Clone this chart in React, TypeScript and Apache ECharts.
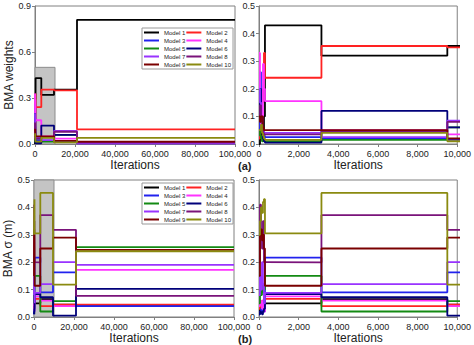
import React, { useEffect, useRef } from "react";
import * as echarts from "echarts";

// Iteration breakpoints (step changes)
const ITER = [0, 50, 100, 150, 200, 250, 300, 3150, 9500, 21000, 100000];

const MODELS = ["Model 1", "Model 2", "Model 3", "Model 4", "Model 5", "Model 6", "Model 7", "Model 8", "Model 9", "Model 10"];
const COLORS = ["#000000", "#ff2222", "#2222ee", "#ff33ff", "#138a13", "#00007a", "#9933ff", "#7a137a", "#7a0000", "#8a8a10"];

// (a) BMA weights
const W1 = [0.0, 0.02, 0.05, 0.1, 0.05, 0.1, 0.43, 0.32, 0.355, 0.81, 0.81];
const W2 = [0.02, 0.05, 0.1, 0.15, 0.2, 0.33, 0.24, 0.355, 0.35, 0.095, 0.095];
const W3 = [0.05, 0.26, 0.15, 0.1, 0.05, 0.03, 0.025, 0.02, 0.015, 0.005, 0.005];
const W4 = [0.33, 0.1, 0.05, 0.1, 0.29, 0.2, 0.155, 0.05, 0.035, 0.005, 0.005];
const W5 = [0.05, 0.03, 0.02, 0.01, 0.02, 0.01, 0.01, 0.015, 0.06, 0.005, 0.005];
const W6 = [0.1, 0.2, 0.1, 0.05, 0.02, 0.01, 0.005, 0.12, 0.06, 0.01, 0.01];
const W7 = [0.2, 0.15, 0.1, 0.05, 0.05, 0.04, 0.04, 0.025, 0.085, 0.005, 0.005];
const W8 = [0.1, 0.14, 0.08, 0.05, 0.04, 0.035, 0.035, 0.045, 0.08, 0.01, 0.01];
const W9 = [0.1, 0.08, 0.1, 0.1, 0.06, 0.05, 0.05, 0.05, 0.02, 0.015, 0.015];
const W10 = [0.05, 0.05, 0.07, 0.04, 0.03, 0.02, 0.015, 0.04, 0.01, 0.04, 0.04];

// (b) BMA sigma (m)
const S1 = [0.02, 0.03, 0.05, 0.04, 0.03, 0.05, 0.05, 0.065, 0.045, 0.04, 0.04];
const S2 = [0.03, 0.05, 0.04, 0.06, 0.05, 0.07, 0.066, 0.04, 0.045, 0.045, 0.045];
const S3 = [0.01, 0.02, 0.03, 0.02, 0.03, 0.02, 0.217, 0.09, 0.163, 0.04, 0.04];
const S4 = [0.04, 0.06, 0.05, 0.03, 0.06, 0.02, 0.075, 0.06, 0.04, 0.172, 0.172];
const S5 = [0.05, 0.1, 0.08, 0.12, 0.09, 0.1, 0.15, 0.02, 0.058, 0.255, 0.255];
const S6 = [0.01, 0.02, 0.015, 0.01, 0.02, 0.03, 0.084, 0.072, 0.005, 0.103, 0.103];
const S7 = [0.08, 0.15, 0.1, 0.2, 0.12, 0.05, 0.088, 0.12, 0.2, 0.19, 0.19];
const S8 = [0.2, 0.41, 0.3, 0.25, 0.35, 0.2, 0.199, 0.372, 0.318, 0.077, 0.077];
const S9 = [0.15, 0.3, 0.32, 0.28, 0.3, 0.25, 0.114, 0.25, 0.29, 0.245, 0.245];
const S10 = [0.3, 0.35, 0.4, 0.38, 0.42, 0.43, 0.305, 0.453, 0.118, 0.24, 0.24];

const WEIGHTS = [W1, W2, W3, W4, W5, W6, W7, W8, W9, W10];
const SIGMAS = [S1, S2, S3, S4, S5, S6, S7, S8, S9, S10];

// Shaded zoom window
const SHADE_X = [0, 10000];
const SHADE_Y = [0, 0.5];

const FONT = "'Liberation Sans', Arial, sans-serif";
const AX = "#808080";
const TXT = "#222";

export default function App() {
  const ref = useRef<HTMLDivElement>(null);
  useEffect(() => {
    if (!ref.current) return;
    const chart = echarts.init(ref.current, undefined, { renderer: "svg" });

    const grids = [
      { left: 35, top: 6, width: 200, height: 138, show: true, borderColor: AX, borderWidth: 1 },
      { left: 259, top: 6, width: 200, height: 138, show: true, borderColor: AX, borderWidth: 1 },
      { left: 34, top: 180, width: 200, height: 138, show: true, borderColor: AX, borderWidth: 1 },
      { left: 259, top: 180, width: 199, height: 138, show: true, borderColor: AX, borderWidth: 1 },
    ];

    const fmt = (v: number) => v.toLocaleString("en-US");
    const mkX = (g: number, max: number, interval: number) => ({
      type: "value",
      gridIndex: g,
      min: 0,
      max,
      interval,
      name: "Iterations",
      nameLocation: "middle",
      nameGap: 15,
      nameTextStyle: { fontSize: 12, color: TXT, fontFamily: FONT },
      axisLine: { show: true, lineStyle: { color: AX } },
      axisTick: { show: true, length: 3, lineStyle: { color: AX } },
      splitLine: { show: false },
      axisLabel: { fontSize: 9, color: TXT, fontFamily: FONT, margin: 5, formatter: fmt },
    });
    const mkY = (g: number, max: number, interval: number, name: string, gap: number) => ({
      type: "value",
      gridIndex: g,
      min: 0,
      max,
      interval,
      name,
      nameLocation: "middle",
      nameGap: gap,
      nameRotate: 90,
      nameTextStyle: { fontSize: 12, color: TXT, fontFamily: FONT },
      axisLine: { show: true, lineStyle: { color: AX } },
      axisTick: { show: true, length: 3, lineStyle: { color: AX } },
      splitLine: { show: false },
      axisLabel: { fontSize: 9, color: TXT, fontFamily: FONT, margin: 4, formatter: (v: number) => v.toFixed(1) },
    });

    const series: any[] = [];
    // shaded boxes
    [0, 2].forEach((g) => {
      series.push({
        type: "line",
        xAxisIndex: g,
        yAxisIndex: g,
        data: [[SHADE_X[0], SHADE_Y[0]], [SHADE_X[1], SHADE_Y[0]]],
        symbol: "none",
        lineStyle: { width: 0, opacity: 0 },
        silent: true,
        z: 1,
        markArea: {
          silent: true,
          itemStyle: { color: "#c4c4c4", borderColor: "#8c8c8c", borderWidth: 1 },
          data: [[{ coord: [SHADE_X[0], SHADE_Y[0]] }, { coord: [SHADE_X[1], SHADE_Y[1]] }]],
        },
      });
    });
    [0, 1, 2, 3].forEach((g) => {
      const src = g < 2 ? WEIGHTS : SIGMAS;
      src.forEach((vals, m) => {
        series.push({
          type: "line",
          name: MODELS[m],
          xAxisIndex: g,
          yAxisIndex: g,
          step: "end",
          symbol: "none",
          silent: true,
          data: ITER.map((x, i) => [x, vals[i]]),
          lineStyle: { width: 1.8, color: COLORS[m] },
          itemStyle: { color: COLORS[m] },
        });
      });
    });

    const mkLegend = (top: number) => ({
      left: 142,
      top,
      width: 95,
      orient: "horizontal",
      icon: "rect",
      itemWidth: 15,
      itemHeight: 2,
      itemGap: 1,
      padding: [1, 2],
      backgroundColor: "#fff",
      borderColor: "#999",
      borderWidth: 1,
      selectedMode: false,
      textStyle: { fontSize: 6, lineHeight: 7, color: TXT, fontFamily: FONT },
      data: MODELS,
    });

    chart.setOption({
      animation: false,
      backgroundColor: "#fff",
      grid: grids,
      xAxis: [mkX(0, 100000, 20000), mkX(1, 10000, 2000), mkX(2, 100000, 20000), mkX(3, 10000, 2000)],
      yAxis: [
        mkY(0, 0.9, 0.3, "BMA weights", 17),
        mkY(1, 0.5, 0.1, "", 10),
        mkY(2, 0.5, 0.1, "BMA σ (m)", 19),
        mkY(3, 0.5, 0.1, "", 10),
      ],
      legend: [mkLegend(28), mkLegend(183)],
      graphic: [
        { type: "text", left: 238, top: 160, style: { text: "(a)", fontSize: 11, fontWeight: "bold", fill: TXT, fontFamily: FONT } },
        { type: "text", left: 238, top: 333, style: { text: "(b)", fontSize: 11, fontWeight: "bold", fill: TXT, fontFamily: FONT } },
      ],
      series,
    });
    return () => chart.dispose();
  }, []);
  return <div ref={ref} style={{ position: "absolute", left: 0, top: 0, width: 474, height: 345 }} />;
}
